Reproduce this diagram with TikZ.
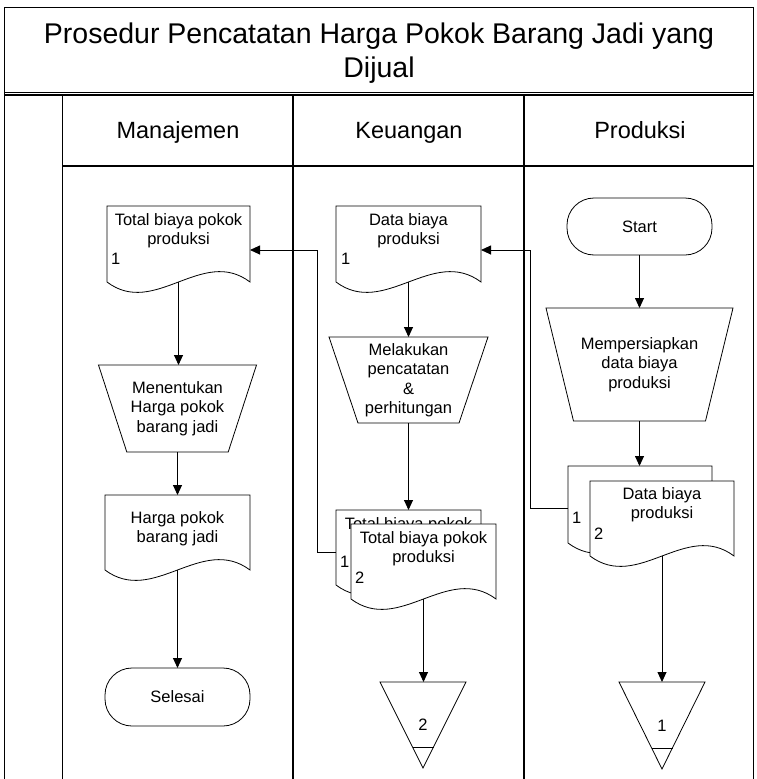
\documentclass[tikz,border=0pt]{standalone}
\usepackage{fontspec}
\setmainfont{Liberation Sans}
\usetikzlibrary{arrows.meta,calc}
\newcommand\docshape[4]{\draw[shp] (#1,#4) -- (#1,#2) -- (#3,#2) -- (#3,#4) .. controls ({#3-(#3-#1)/3},{#4-36}) and ({#1+(#3-#1)/3},{#4+36}) .. (#1,#4) -- cycle;}
\newcommand\trapshape[2]{\draw[shp,fill=none] (#1.north west) -- (#1.north east) -- ([xshift=-#2pt]#1.south east) -- ([xshift=#2pt]#1.south west) -- cycle;}
\newcommand\trishape[1]{\draw[shp,fill=none] (#1.north west) -- (#1.north east) -- (#1.south) -- cycle;
  \draw[shp] ([xshift=-10.5pt,yshift=21pt]#1.south) -- ([xshift=10.5pt,yshift=21pt]#1.south);}
\begin{document}
\begin{tikzpicture}[x=1pt,y=-1pt,
  frame/.style={line width=1.6pt, draw=black},
  shp/.style={draw=black, line width=0.8pt, fill=white},
  box/.style={inner sep=0pt, outer sep=0pt, draw=none},
  txt/.style={font=\fontsize{16.5}{19.5}\selectfont, align=center, inner sep=0pt, outer sep=0pt},
  num/.style={font=\fontsize{16.5}{19.5}\selectfont, inner sep=0pt, anchor=base west},
  head/.style={font=\fontsize{23.5}{28}\selectfont, inner sep=0pt, anchor=base},
  term/.style={draw=black, line width=0.8pt, rounded corners=27pt, minimum width=145pt, txt},
  arr/.style={line width=0.9pt, -{Triangle[length=10pt,width=9pt]}},
  ]
\useasboundingbox (0,0) rectangle (756,779);
% frame
\draw[frame] (4.5,779) -- (4.5,7.5) -- (753.5,7.5) -- (753.5,779);
\draw[line width=1.2pt] (4.5,92.3) -- (753.5,92.3);
\draw[line width=1.2pt] (4.5,95) -- (753.5,95);
\draw[frame] (62.5,95) -- (62.5,779);
\draw[frame] (293,95) -- (293,779);
\draw[frame] (524,95) -- (524,779);
\draw[frame] (62.5,166) -- (753.5,166);
% title and headers
\node[font=\fontsize{28.5}{34}\selectfont, align=center, inner sep=0pt, anchor=base] (title) at (379,77) {Prosedur Pencatatan Harga Pokok Barang Jadi yang\\Dijual};
\node[head] (hm) at (178,138) {Manajemen};
\node[head] (hk) at (409,138) {Keuangan};
\node[head] (hp) at (640,138) {Produksi};

% ---------- Produksi ----------
\node[term, minimum height=57pt] (start) at (639.5,226.5) {Start};
\node[box, txt, minimum width=187pt, minimum height=113pt] (pt) at (639.5,364.5) {Mempersiapkan\\data biaya\\produksi};
\trapshape{pt}{27.5}
\docshape{568}{466}{712}{543}
\node[box, minimum width=144pt, minimum height=77pt] (pc1) at (640,504.5) {};
\node[num] (pc1n) at (572,523) {1};
\docshape{590}{481}{734}{556}
\node[box, minimum width=144pt, minimum height=75pt] (pc2) at (662,518.5) {};
\node[txt, anchor=base] (pc2t) at (662,518.5) {Data biaya\\produksi};
\node[num] (pc2n) at (594,539) {2};
\node[box, txt, minimum width=86pt, minimum height=87pt] (ptri) at (662,725.5) {1};
\trishape{ptri}

% ---------- Keuangan ----------
\docshape{336}{206}{481}{282}
\node[box, minimum width=145pt, minimum height=76pt] (kd) at (408.5,244) {};
\node[txt, anchor=base] (kdt) at (408.5,244.5) {Data biaya\\produksi};
\node[num] (kdn) at (341,264) {1};
\node[box, txt, minimum width=159pt, minimum height=86pt] (kt) at (408.5,380) {Melakukan\\pencatatan\\\&\\perhitungan};
\trapshape{kt}{29}
\docshape{336}{510}{481}{585}
\node[box, minimum width=145pt, minimum height=75pt] (kc1) at (408.5,547.5) {};
\node[txt, anchor=base] (kc1t) at (408.5,548.5) {Total biaya pokok\\produksi};
\node[num] (kc1n) at (340,567) {1};
\docshape{351}{524}{496}{599}
\node[box, minimum width=145pt, minimum height=75pt] (kc2) at (423.5,561.5) {};
\node[txt, anchor=base] (kc2t) at (423.5,562.5) {Total biaya pokok\\produksi};
\node[num] (kc2n) at (355,583) {2};
\node[box, txt, minimum width=86pt, minimum height=86pt] (ktri) at (423,725) {2};
\trishape{ktri}

% ---------- Manajemen ----------
\docshape{107}{206}{250}{282}
\node[box, minimum width=143pt, minimum height=76pt] (md) at (178.5,244) {};
\node[txt, anchor=base] (mdt) at (178.5,244.5) {Total biaya pokok\\produksi};
\node[num] (mdn) at (111,264) {1};
\node[box, txt, minimum width=158pt, minimum height=87pt] (mt) at (177.5,408.5) {Menentukan\\Harga pokok\\barang jadi};
\trapshape{mt}{28.3}
\docshape{105}{495}{250}{570}
\node[box, minimum width=145pt, minimum height=75pt] (mh) at (177.5,532.5) {};
\node[txt, anchor=base] (mht) at (177.5,542.5) {Harga pokok\\barang jadi};
\node[term, minimum height=58pt] (end) at (177.5,697) {Selesai};

% ---------- connectors ----------
\draw[arr] (start.south) -- (start.south |- pt.north);
\draw[arr] (pt.south) -- (pt.south |- pc1.north);
\draw[arr] ([yshift=-42pt]pc1.north west) -- ++(-38,0) |- ([yshift=-44pt]kd.north east);
\draw[arr] (pc2.south) -- (pc2.south |- ptri.north);
\draw[arr] (kd.south) -- (kd.south |- kt.north);
\draw[arr] (kt.south) -- (kt.south |- kc1.north);
\draw[arr] ([yshift=-42pt]kc1.north west) -- ++(-19,0) |- ([yshift=-44pt]md.north east);
\draw[arr] (kc2.south) -- (kc2.south |- ktri.north);
\draw[arr] (md.south) -- (md.south |- mt.north);
\draw[arr] (mt.south) -- (mt.south |- mh.north);
\draw[arr] (mh.south) -- (mh.south |- end.north);
\end{tikzpicture}
\end{document}
